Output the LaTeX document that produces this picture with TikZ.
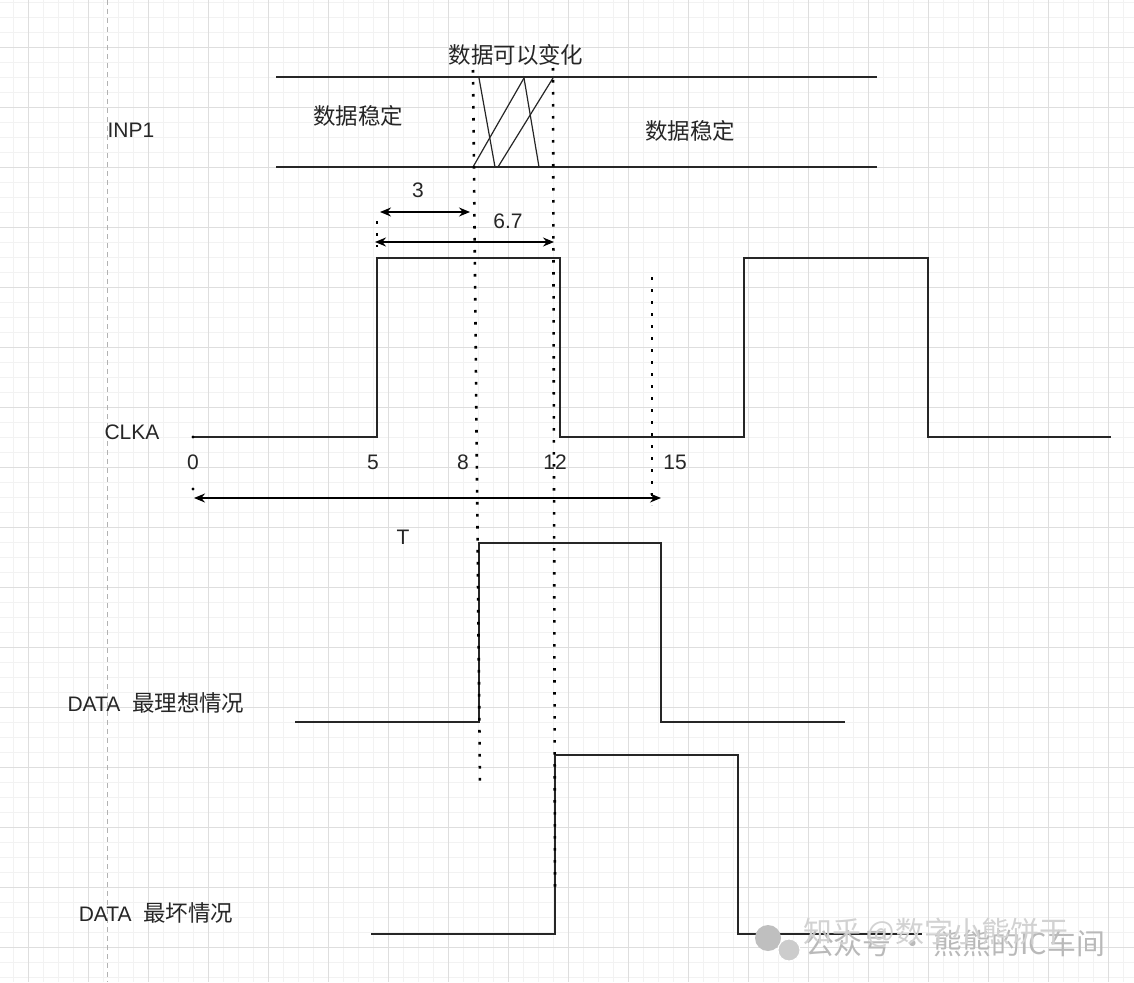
\documentclass[tikz,border=0pt]{standalone}
\usepackage{fontspec}
\setmainfont{Liberation Sans}
\newfontfamily\cjk[Scale=1.07]{Noto Sans CJK SC}
\usetikzlibrary{arrows.meta}

\begin{document}
\begin{tikzpicture}[x=1pt, y=-1pt,
        wave/.style={line width=1.6pt, black!85},
        hatch/.style={line width=1.2pt, black!85},
        dotline/.style={line width=2.6pt, dash pattern=on 2.6pt off 9.4pt},
        dimline/.style={line width=1.6pt, {Stealth[length=11pt, width=9pt]}-{Stealth[length=11pt, width=9pt]}},
        lbl/.style={text=black!85, font=\fontsize{21}{25}\selectfont, inner sep=0pt}]
        \useasboundingbox (0,0) rectangle (1134,982);
        \fill[white] (0,0) rectangle (1134,982);
        % grid
        \foreach \x in {13,28,...,1123} \draw[gray!10, line width=0.8pt] (\x,0) -- (\x,982);
        \foreach \y in {2,17,...,977} \draw[gray!10, line width=0.8pt] (0,\y) -- (1134,\y);
        \foreach \x in {28,88,...,1108} \draw[gray!26, line width=0.9pt] (\x,0) -- (\x,982);
        \foreach \y in {47,107,...,947} \draw[gray!26, line width=0.9pt] (0,\y) -- (1134,\y);
        \draw[gray!60, line width=1pt, dash pattern=on 5pt off 4pt] (107,0) -- (107,982);

        % INP1
        \draw[wave] (276,77) -- (877,77);
        \draw[wave] (276,167) -- (877,167);
        \draw[hatch] (479,78) -- (495,167);
        \draw[hatch] (473,167) -- (524,78);
        \draw[hatch] (498,167) -- (553,78);
        \draw[hatch] (524,78) -- (539,167);

        % CLKA
        \draw[wave] (193,437) -- (377,437) -- (377,258) -- (560,258) -- (560,437) -- (744,437) -- (744,258) -- (928,258) -- (928,437) -- (1111,437);
        % DATA
        \draw[wave] (295,722) -- (479,722) -- (479,543) -- (661,543) -- (661,722) -- (845,722);
        \draw[wave] (371,934) -- (555,934) -- (555,755) -- (738,755) -- (738,934) -- (922,934);

        \draw[dotline] (473,70) -- (480,788);
        \draw[dotline] (553,68) -- (555,892);
        \draw[dotline] (652,277) -- (652,505);
        \draw[dotline] (377,221) -- (377,247);
        \fill (193,437) circle (1.6);
        \fill (193,489) circle (1.6);

        \coordinate (d3a) at (380,212);
        \coordinate (d3b) at (470,212);
        \coordinate (d67a) at (375,242);
        \coordinate (d67b) at (554,242);
        \coordinate (pera) at (194,498);
        \coordinate (perb) at (661,498);
        \draw[dimline] (d3a) -- (d3b);
        \draw[dimline] (d67a) -- (d67b);
        \draw[dimline] (pera) -- (perb);

        \node[lbl] (chg) at (516,55) {\cjk 数据可以变化};
        \node[lbl] (stbl) at (358,116) {\cjk 数据稳定};
        \node[lbl] (stbr) at (690,131) {\cjk 数据稳定};
        \node[lbl] (inp) at (131,130) {INP1};
        \node[lbl] (clka) at (132,432) {CLKA};
        \node[lbl] (v3) at (418,190) {3};
        \node[lbl] (v67) at (508,221) {6.7};
        \node[lbl] (t0) at (193,462) {0};
        \node[lbl] (t5) at (373,462) {5};
        \node[lbl] (t8) at (463,462) {8};
        \node[lbl] (t12) at (555,462) {12};
        \node[lbl] (t15) at (675,462) {15};
        \node[lbl] (per) at (403,537) {T};
        \node[lbl] (best) at (156,703) {DATA\ \ {\cjk 最理想情况}};
        \node[lbl] (worst) at (156,913) {DATA\ \ {\cjk 最坏情况}};

        % watermark
        \fill[gray!50] (768,938) circle (13);
        \fill[gray!40, draw=white, line width=1pt] (789,950) circle (11);
        \node[lbl, text=gray!55, font=\cjk\fontsize{27}{30}\selectfont] (wmb) at (955,943) {公众号 · 熊熊的IC车间};
        \node[lbl, text=gray!35, font=\cjk\fontsize{27}{30}\selectfont] (wma) at (936,933) {知乎 @数字小熊饼干};
    \end{tikzpicture}
\end{document}
